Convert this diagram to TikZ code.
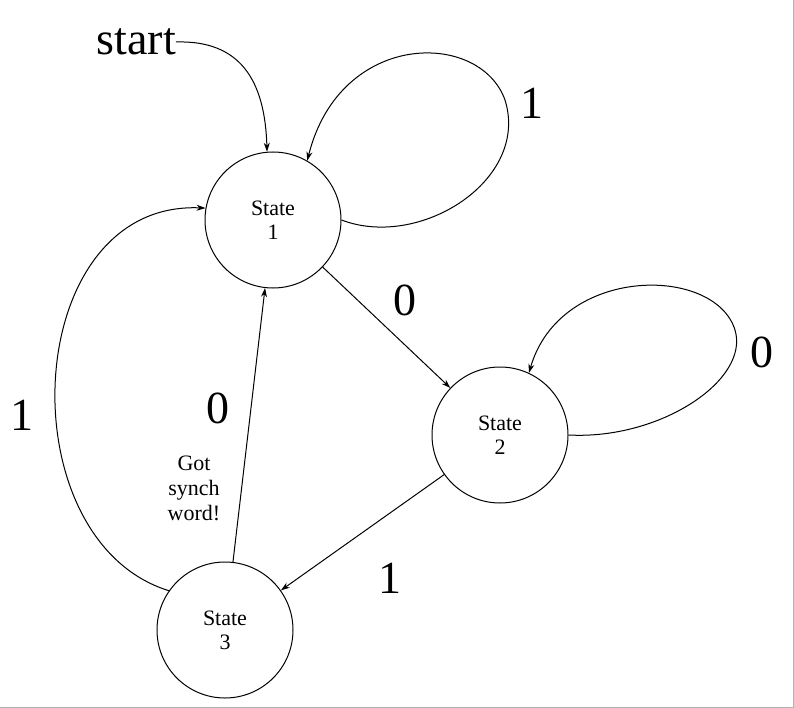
\documentclass[tikz,border=0pt]{standalone}
\usepackage{fontspec}
\setmainfont{Liberation Serif}
\usetikzlibrary{arrows.meta}
\begin{document}
\begin{tikzpicture}[x=1pt,y=-1pt,
  st/.style={draw,circle,minimum size=136pt,inner sep=0pt,align=center,font=\fontsize{22}{24}\selectfont,line width=1pt},
  lab/.style={font=\fontsize{46}{46}\selectfont},
  tr/.style={-{Stealth[length=9pt,width=6pt]},line width=1pt}]
\useasboundingbox (0,0) rectangle (794,708);
\draw[gray!60] (793,0) -- (793,707) -- (0,707);
\node[st] (s1) at (273,220) {State\\1};
\node[st] (s2) at (500,435) {State\\2};
\node[st] (s3) at (225,630) {State\\3};
\node[lab,anchor=east,inner sep=0pt] (start) at (176,42) {start};
\draw[tr] (start.east) .. controls (240,40) and (265,80) .. (s1.95);
\draw[tr] (s1.0) .. controls (420,250) and (530,180) .. (505,100) .. controls (480,30) and (340,30) .. (s1.60);
\node[lab] (l1) at (532,103) {1};
\draw[tr] (s1) -- (s2);
\node[lab] (l0a) at (405,300) {0};
\draw[tr] (s2.0) .. controls (660,440) and (750,380) .. (735,330) .. controls (715,265) and (560,265) .. (s2.65);
\node[lab] (l2) at (762,352) {0};
\draw[tr] (s2) -- (s3);
\node[lab] (l1b) at (390,578) {1};
\draw[tr] (s3) -- (s1);
\node[lab] (l0b) at (218,408) {0};
\node[align=center,font=\fontsize{22}{25}\selectfont] (got) at (194,488) {Got\\synch\\word!};
\draw[tr] (s3.145) .. controls (5,540) and (20,200) .. (s1.170);
\node[lab] (l3) at (22,415) {1};
\end{tikzpicture}
\end{document}
